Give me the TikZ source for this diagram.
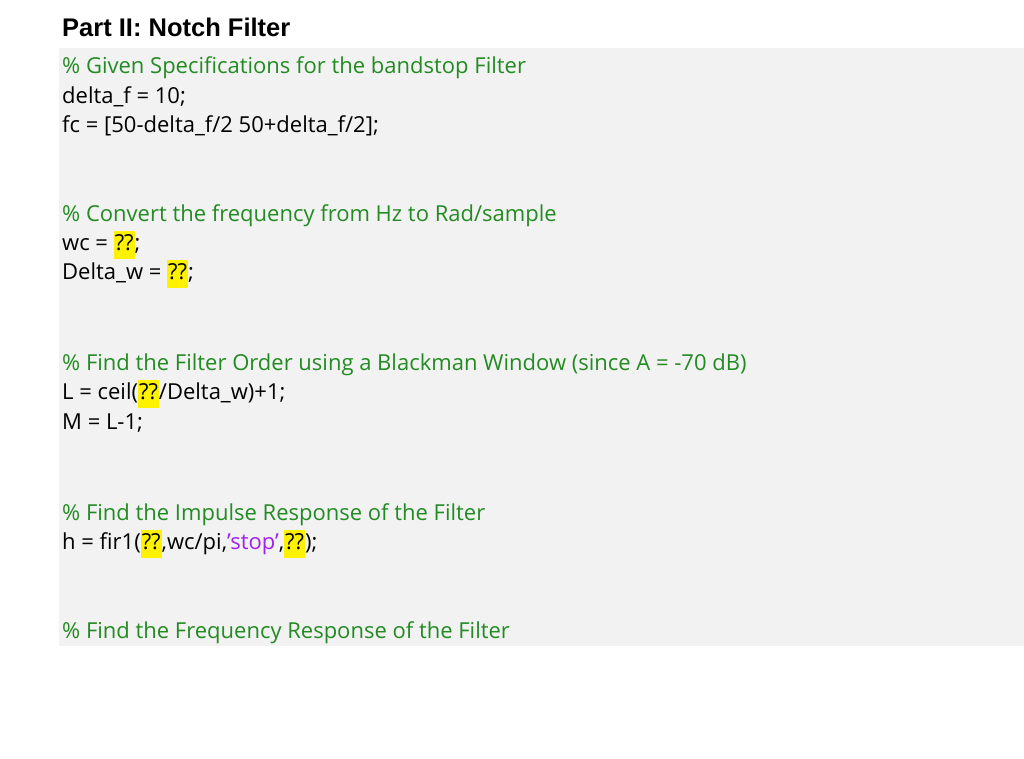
\documentclass[tikz,border=0pt]{standalone}
\usepackage{fontspec}
\setmainfont{Open Sans}
\newfontfamily\titlefont{Liberation Sans}
\definecolor{bggray}{HTML}{F2F2F2}
\definecolor{cmt}{HTML}{228B22}
\definecolor{strc}{HTML}{A020F0}
\newcommand{\hlq}{{\setlength{\fboxsep}{1pt}\colorbox{yellow}{\strut ??}}}
\begin{document}
\begin{tikzpicture}[x=1pt,y=-1pt,
  code/.style={anchor=west,inner sep=0pt,font=\fontsize{22}{26}\selectfont},
  comment/.style={code,text=cmt}]
\useasboundingbox (0,0) rectangle (1024,758);
\fill[white] (0,0) rectangle (1024,758);
\fill[bggray] (59,48) rectangle (1024,646);
\node[anchor=west,inner sep=0pt,font=\titlefont\bfseries\fontsize{25.5}{30}\selectfont] (title) at (62,27) {Part II: Notch Filter};
\node[comment] (l1) at (62,68) {\% Given Specifications for the bandstop Filter};
\node[code] (l2) at (62,97) {delta\_f = 10;};
\node[code] (l3) at (62,126) {fc = [50-delta\_f/2 50+delta\_f/2];};
\node[comment] (l4) at (62,216) {\% Convert the frequency from Hz to Rad/sample};
\node[code] (l5) at (62,245) {wc = \hlq;};
\node[code] (l6) at (62,274) {Delta\_w = \hlq;};
\node[comment] (l7) at (62,365) {\% Find the Filter Order using a Blackman Window (since A = -70 dB)};
\node[code] (l8) at (62,394) {L = ceil(\hlq/Delta\_w)+1;};
\node[code] (l9) at (62,423) {M = L-1;};
\node[comment] (l10) at (62,515) {\% Find the Impulse Response of the Filter};
\node[code] (l11) at (62,544) {h = fir1(\hlq,wc/pi,\textcolor{strc}{\symbol{39}stop\symbol{39}},\hlq);};
\node[comment] (l12) at (62,633) {\% Find the Frequency Response of the Filter};
\end{tikzpicture}
\end{document}
